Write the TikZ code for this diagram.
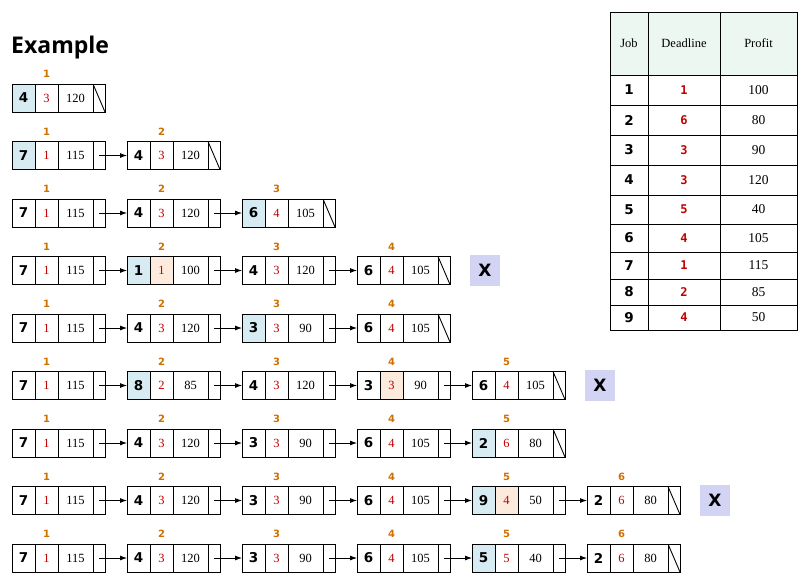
\documentclass[tikz,border=0pt]{standalone}
\usepackage{fontspec}
\setmainfont{Liberation Serif}
\newfontfamily\jf{DejaVu Sans}
\newfontfamily\tf{Open Sans}
\newfontfamily\mf{DejaVu Sans Mono}
\usetikzlibrary{arrows.meta}
\definecolor{hb}{HTML}{D6EBF2}
\definecolor{hp}{HTML}{FCEBDD}
\definecolor{xb}{HTML}{D3D3F3}
\definecolor{dred}{HTML}{C00000}
\definecolor{org}{HTML}{D07000}
\definecolor{thd}{HTML}{EDF7F1}
\tikzset{
 cellb/.style={draw,line width=0.9pt,inner sep=0,outer sep=0,minimum height=28pt},
 jc/.style={cellb,minimum width=23pt,font=\jf\bfseries\fontsize{13.5}{13.5}\selectfont},
 dc/.style={cellb,minimum width=23pt,text=dred,font=\fontsize{12.5}{12.5}\selectfont},
 pc/.style={cellb,minimum width=35pt,font=\fontsize{12.5}{12.5}\selectfont},
 nc/.style={cellb,minimum width=12pt},
 idx/.style={text=org,font=\jf\bfseries\fontsize{10}{10}\selectfont,inner sep=0},
 arr/.style={-{Latex[length=7pt,width=5pt]},line width=0.8pt},
 xbox/.style={fill=xb,minimum width=30pt,minimum height=31pt,inner sep=0,font=\jf\bfseries\fontsize{17}{17}\selectfont},
 tcell/.style={draw,line width=1pt,inner sep=0,outer sep=0,anchor=north west}
}
\newcommand\el[7]{%
 \pgfmathsetmacro\xx{12+115*(#2-1)}\pgfmathsetmacro\yy{-84-57.5*(#1-1)}%
 \node[jc,fill=#6,anchor=north west] (r#1c#2j) at (\xx,\yy) {#3};
 \node[dc,fill=#7,anchor=west] (r#1c#2d) at (r#1c#2j.east) {#4};
 \node[pc,anchor=west] (r#1c#2p) at (r#1c#2d.east) {#5};
 \node[nc,anchor=west] (r#1c#2n) at (r#1c#2p.east) {};
 \node[idx] (r#1c#2i) at ([yshift=10pt]r#1c#2d.north) {#2};}
\newcommand\lnk[3]{\draw[arr] (r#1c#2n.center) -- (r#1c#3j.west);}
\newcommand\nul[2]{\draw[line width=0.9pt] (r#1c#2n.north west) -- (r#1c#2n.south east);}
\newcommand\trow[6]{% top bottom name job dl profit
 \node[tcell,minimum width=38pt,minimum height=#2-#1] (#3a) at (610,-#1) {};
 \node[tcell,minimum width=72pt,minimum height=#2-#1] (#3b) at (648,-#1) {};
 \node[tcell,minimum width=77pt,minimum height=#2-#1] (#3c) at (720,-#1) {};
 \node[font=\jf\bfseries\fontsize{13.5}{13.5}\selectfont] at (#3a.center) {#4};
 \node[font=\mf\bfseries\fontsize{12}{12}\selectfont,text=dred] at (#3b.center) {#5};
 \node[font=\fontsize{13.5}{13.5}\selectfont] at (#3c.center) {#6};}
\begin{document}
\begin{tikzpicture}[x=1pt,y=1pt]
\useasboundingbox (0,0) rectangle (800,-582);
\node[anchor=west,font=\tf\bfseries\fontsize{23}{23}\selectfont,inner sep=0] (title) at (11,-48) {Example};
% row 1
\el{1}{1}{4}{3}{120}{hb}{white}\nul{1}{1}
% row 2
\el{2}{1}{7}{1}{115}{hb}{white}\el{2}{2}{4}{3}{120}{white}{white}
\lnk{2}{1}{2}\nul{2}{2}
% row 3
\el{3}{1}{7}{1}{115}{white}{white}\el{3}{2}{4}{3}{120}{white}{white}\el{3}{3}{6}{4}{105}{hb}{white}
\lnk{3}{1}{2}\lnk{3}{2}{3}\nul{3}{3}
% row 4
\el{4}{1}{7}{1}{115}{white}{white}\el{4}{2}{1}{1}{100}{hb}{hp}\el{4}{3}{4}{3}{120}{white}{white}\el{4}{4}{6}{4}{105}{white}{white}
\lnk{4}{1}{2}\lnk{4}{2}{3}\lnk{4}{3}{4}\nul{4}{4}
\node[xbox] (x4) at ([xshift=35pt]r4c4n.east) {X};
% row 5
\el{5}{1}{7}{1}{115}{white}{white}\el{5}{2}{4}{3}{120}{white}{white}\el{5}{3}{3}{3}{90}{hb}{white}\el{5}{4}{6}{4}{105}{white}{white}
\lnk{5}{1}{2}\lnk{5}{2}{3}\lnk{5}{3}{4}\nul{5}{4}
% row 6
\el{6}{1}{7}{1}{115}{white}{white}\el{6}{2}{8}{2}{85}{hb}{white}\el{6}{3}{4}{3}{120}{white}{white}\el{6}{4}{3}{3}{90}{white}{hp}\el{6}{5}{6}{4}{105}{white}{white}
\lnk{6}{1}{2}\lnk{6}{2}{3}\lnk{6}{3}{4}\lnk{6}{4}{5}\nul{6}{5}
\node[xbox] (x6) at ([xshift=35pt]r6c5n.east) {X};
% row 7
\el{7}{1}{7}{1}{115}{white}{white}\el{7}{2}{4}{3}{120}{white}{white}\el{7}{3}{3}{3}{90}{white}{white}\el{7}{4}{6}{4}{105}{white}{white}\el{7}{5}{2}{6}{80}{hb}{white}
\lnk{7}{1}{2}\lnk{7}{2}{3}\lnk{7}{3}{4}\lnk{7}{4}{5}\nul{7}{5}
% row 8
\el{8}{1}{7}{1}{115}{white}{white}\el{8}{2}{4}{3}{120}{white}{white}\el{8}{3}{3}{3}{90}{white}{white}\el{8}{4}{6}{4}{105}{white}{white}\el{8}{5}{9}{4}{50}{hb}{hp}\el{8}{6}{2}{6}{80}{white}{white}
\lnk{8}{1}{2}\lnk{8}{2}{3}\lnk{8}{3}{4}\lnk{8}{4}{5}\lnk{8}{5}{6}\nul{8}{6}
\node[xbox] (x8) at ([xshift=35pt]r8c6n.east) {X};
% row 9
\el{9}{1}{7}{1}{115}{white}{white}\el{9}{2}{4}{3}{120}{white}{white}\el{9}{3}{3}{3}{90}{white}{white}\el{9}{4}{6}{4}{105}{white}{white}\el{9}{5}{5}{5}{40}{hb}{white}\el{9}{6}{2}{6}{80}{white}{white}
\lnk{9}{1}{2}\lnk{9}{2}{3}\lnk{9}{3}{4}\lnk{9}{4}{5}\lnk{9}{5}{6}\nul{9}{6}
% table
\node[tcell,fill=thd,minimum width=38pt,minimum height=63pt] (ha) at (610,-12) {};
\node[tcell,fill=thd,minimum width=72pt,minimum height=63pt] (hb) at (648,-12) {};
\node[tcell,fill=thd,minimum width=77pt,minimum height=63pt] (hc) at (720,-12) {};
\node[font=\fontsize{12.5}{12.5}\selectfont] at (ha.center) {Job};
\node[font=\fontsize{12.5}{12.5}\selectfont] at (hb.center) {Deadline};
\node[font=\fontsize{12.5}{12.5}\selectfont] at (hc.center) {Profit};
\trow{75}{105}{t1}{1}{1}{100}
\trow{105}{135}{t2}{2}{6}{80}
\trow{135}{165}{t3}{3}{3}{90}
\trow{165}{195}{t4}{4}{3}{120}
\trow{195}{224}{t5}{5}{5}{40}
\trow{224}{252}{t6}{6}{4}{105}
\trow{252}{279}{t7}{7}{1}{115}
\trow{279}{305}{t8}{8}{2}{85}
\trow{305}{330}{t9}{9}{4}{50}
\end{tikzpicture}
\end{document}
